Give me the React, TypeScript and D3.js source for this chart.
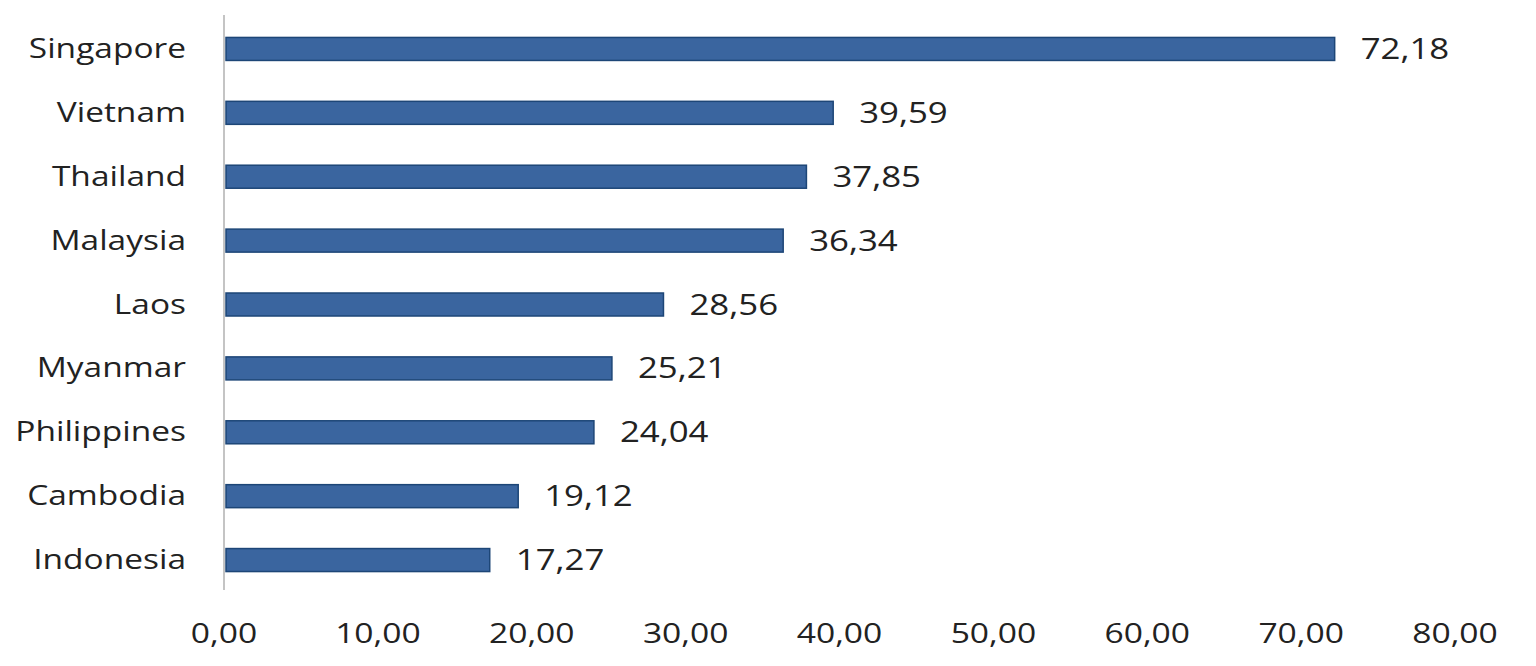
import React from "react";
import * as d3 from "d3";

const categories = ["Singapore", "Vietnam", "Thailand", "Malaysia", "Laos", "Myanmar", "Philippines", "Cambodia", "Indonesia"];
const values = [72.18, 39.59, 37.85, 36.34, 28.56, 25.21, 24.04, 19.12, 17.27];
const ticks = [0, 10, 20, 30, 40, 50, 60, 70, 80];

const W = 1536;
const H = 666;
const FONT = "'Open Sans', sans-serif";

const fmt = (v: number) => v.toFixed(2).replace(".", ",");

export default function App() {
  const x = d3.scaleLinear().domain([0, 80]).range([224, 1455]);
  const y = d3
    .scaleBand<string>()
    .domain(categories)
    .range([17, 592])
    .paddingInner(0.64)
    .paddingOuter(0.32);
  const bw = y.bandwidth();

  const txt = (
    key: string,
    tx: number,
    ty: number,
    s: string,
    anchor: "start" | "middle" | "end",
    size: number,
    sx: number
  ) => (
    <text
      key={key}
      transform={`translate(${tx},${ty}) scale(${sx},1)`}
      textAnchor={anchor}
      fontFamily={FONT}
      fontSize={size}
      fill="#222"
    >
      {s}
    </text>
  );

  return (
    <svg
      width={W}
      height={H}
      style={{ position: "absolute", left: 0, top: 0, background: "#fff" }}
    >
      {categories.map((c, i) => {
        const cy = (y(c) as number) + bw / 2;
        return (
          <g key={c}>
            <rect
              x={x(0) + 2}
              y={y(c) as number}
              width={x(values[i]) - x(0) - 2}
              height={bw}
              fill="#3a659f"
              stroke="#1d4677"
              strokeWidth={1.5}
            />
            {txt("v" + c, x(values[i]) + 26, cy + 10, fmt(values[i]), "start", 29, 1.2)}
            {txt("c" + c, 186, cy + 9, c, "end", 27, 1.24)}
          </g>
        );
      })}
      <line x1={x(0)} x2={x(0)} y1={15} y2={590} stroke="#c4c4c4" strokeWidth={2} />
      {ticks.map((t) => txt("t" + t, x(t), 643, fmt(t), "middle", 28, 1.2))}
    </svg>
  );
}
